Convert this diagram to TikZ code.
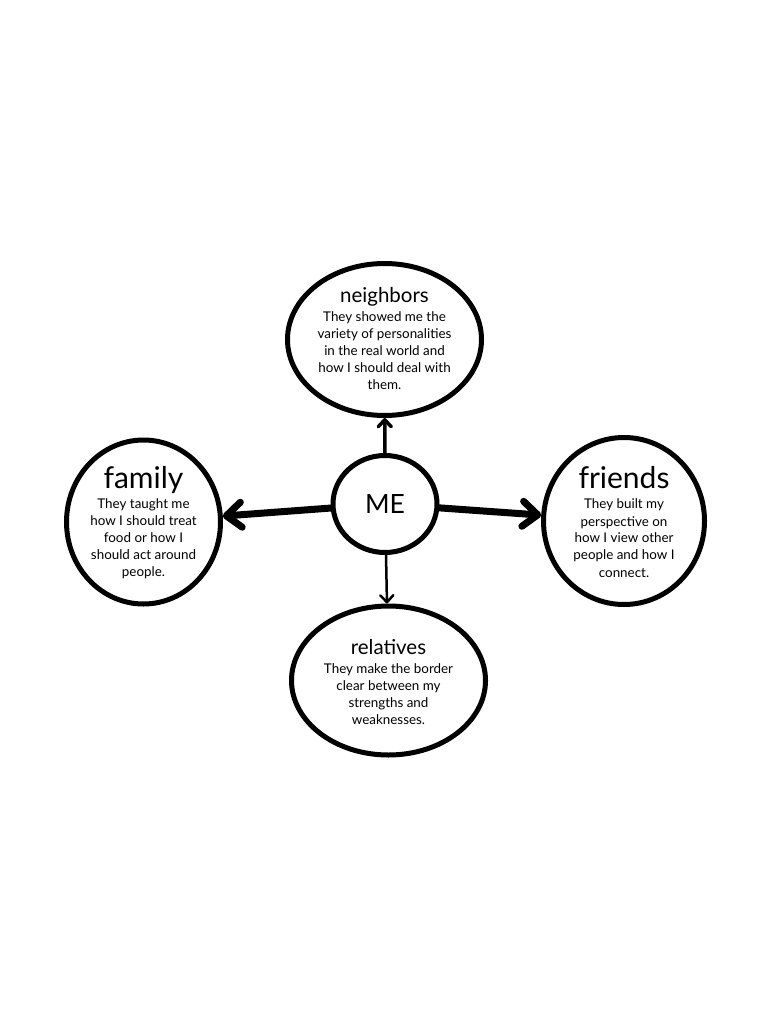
\documentclass[tikz,border=0pt]{standalone}
\usepackage{fontspec}
\setmainfont{Lato}
\usetikzlibrary{shapes.geometric,arrows.meta}

\tikzset{
  bubble/.style={ellipse, draw=black, line width=5pt, fill=white, inner sep=0pt},
  bubbletext/.style={align=center, text=black, inner sep=0pt, font=\fontsize{13.4}{17}\selectfont},
  bigarrow/.style={line width=7pt, line cap=round, -{Straight Barb[length=15pt,width=25pt,round]}},
  smallarrow/.style={line width=3.5pt, line cap=round, -{Straight Barb[length=7pt,width=13pt,round]}}
}
\newcommand{\smalltitle}[1]{{\fontsize{20.5}{20}\selectfont #1}}
\newcommand{\bigtitle}[1]{{\fontsize{30}{28}\selectfont #1}}

\begin{document}
\begin{tikzpicture}[x=1pt, y=-1pt]
\useasboundingbox[fill=white] (0,0) rectangle (768,1024);

% the bubbles
\node[bubble, minimum width=194pt, minimum height=152pt] (nb) at (384.5,339.5) {};
\node[bubble, minimum width=154pt, minimum height=164pt] (fam) at (143.5,522) {};
\node[bubble, minimum width=161pt, minimum height=167pt] (fr) at (624,521) {};
\node[bubble, minimum width=194pt, minimum height=149pt] (rel) at (388.5,680.5) {};
\node[bubble, minimum width=104pt, minimum height=97pt] (me) at (385,504) {};

% texts
\node[bubbletext] (metext) at (me) {\fontsize{26.5}{26}\selectfont ME};
\node[bubbletext] (nbtext) at ([yshift=1pt]nb) {\smalltitle{neighbors}\\[2pt]
  They showed me the\\ variety of personalities\\ in the real world and\\
  how I should deal with\\ them.};
\node[bubbletext] (famtext) at ([yshift=-1pt]fam) {\bigtitle{family}\\[3pt]
  They taught me\\ how I should treat\\ food or how I\\
  should act around\\ people.};
\node[bubbletext] (frtext) at ([yshift=-1pt]fr) {\bigtitle{friends}\\[3pt]
  They built my\\ perspective on\\ how I view other\\
  people and how I\\ connect.};
\node[bubbletext] (reltext) at ([yshift=-1pt]rel) {\smalltitle{relatives}\\[2pt]
  They make the border\\ clear between my\\ strengths and\\
  weaknesses.};

% arrows out of ME
\draw[bigarrow] (me) -- (fam);
\draw[bigarrow] (me) -- (fr);
\draw[smallarrow] (me) -- (nb);
\draw[smallarrow, line width=2.5pt] (me) -- (rel);
\end{tikzpicture}
\end{document}
